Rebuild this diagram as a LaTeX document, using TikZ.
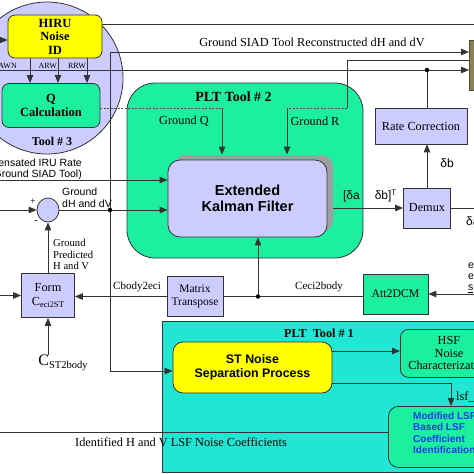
\documentclass[tikz,border=0pt]{standalone}
\usepackage{fontspec}
\setmainfont{Liberation Serif}
\newfontfamily\arial{Liberation Sans}
\usetikzlibrary{arrows.meta,shapes.geometric}
\newcommand\fsz[2]{\fontsize{#1}{#2}\selectfont}
\pgfdeclarelayer{back}
\pgfdeclarelayer{mid}
\pgfsetlayers{back,mid,main}
\definecolor{lav}{RGB}{204,204,255}
\definecolor{mint}{RGB}{28,240,160}
\definecolor{tealA}{RGB}{34,230,212}
\definecolor{yel}{RGB}{255,255,0}
\definecolor{lblue}{RGB}{30,60,230}
\definecolor{oliv}{RGB}{140,128,90}
\begin{document}
\begin{tikzpicture}[x=1pt,y=-1pt,
  ln/.style={draw=black!80, line width=0.85pt},
  ar/.style={ln, -{Triangle[length=8pt,width=6.5pt]}},
  dt/.style={draw=black!70, line width=0.6pt, dash pattern=on 2pt off 1.5pt},
  bx/.style={draw=black!80, line width=0.8pt, align=center, inner sep=0pt},
  lavbox/.style={bx, fill=lav, font=\fsz{12.3}{14}},
  sr/.style={font=\fsz{12.3}{13.5}, align=center, inner sep=0pt},
  sa/.style={font=\arial\fsz{10.5}{11.5}, align=center, inner sep=0pt},
  dotc/.style={circle, fill=black, inner sep=0pt, minimum size=4.5pt}
]
\useasboundingbox (0,0) rectangle (474,474);

% ---------- boxes ----------
\node[bx, fill=yel, rounded corners=7pt, minimum width=94pt, minimum height=43pt, font=\bfseries\fsz{12.5}{13.5}] (hiru) at (55,36.5) {HIRU\\Noise\\ID};
\node[bx, fill=mint, rounded corners=7pt, minimum width=98pt, minimum height=44pt, font=\bfseries\fsz{12.5}{13.5}] (q) at (51,105.5) {Q\\Calculation};
\node[bx, fill=gray!75, draw=none, rounded corners=12pt, minimum width=159pt, minimum height=77pt] (ekfs) at (253.5,193.5) {};
\node[bx, fill=lav, rounded corners=12pt, minimum width=159pt, minimum height=77pt, font=\arial\bfseries\fsz{14.5}{16}] (ekf) at (247.5,198.5) {Extended\\Kalman Filter};
\node[lavbox, minimum width=92pt, minimum height=36pt] (rate) at (421,126) {Rate Correction};
\node[lavbox, minimum width=47pt, minimum height=40pt] (demux) at (427,208) {Demux};
\node[ellipse, draw=black!80, fill=lav, line width=0.8pt, minimum width=22pt, minimum height=24pt, inner sep=0pt] (sum) at (48,210) {};
\node[lavbox, minimum width=53pt, minimum height=44pt] (form) at (48,295.5) {Form\\C{\fsz{8.5}{9}\raisebox{-2.5pt}{eci2ST}}};
\node[lavbox, minimum width=56pt, minimum height=40pt, font=\fsz{11.5}{13}] (mt) at (195,296.5) {Matrix\\Transpose};
\node[bx, fill=mint, minimum width=65pt, minimum height=40pt, font=\fsz{11.8}{13}] (att) at (395.5,294) {Att2DCM};
\node[bx, fill=yel, rounded corners=10pt, minimum width=159pt, minimum height=51pt, font=\arial\bfseries\fsz{12.4}{13.5}] (st) at (252.5,367.5) {ST Noise\\Separation Process};
\node[bx, fill=mint, rounded corners=8pt, minimum width=100pt, minimum height=48pt, anchor=north west] (hsf) at (400,329) {};
\node[sr, font=\fsz{12.3}{12.5}] (hsft) at (449,353) {HSF\\Noise\\Characterization};
\node[bx, fill=mint, rounded corners=10pt, minimum width=110pt, minimum height=61pt, anchor=north west] (mlsf) at (388,406) {};
\node[font=\arial\bfseries\fsz{10}{11.5}, text=lblue, align=left, anchor=north west, inner sep=0pt] (mlsft) at (413,412) {Modified LSF\\Based LSF\\Coefficient\\Identification};
\node[bx, fill=oliv, draw=oliv!60!black, minimum width=14pt, minimum height=50pt, anchor=north west] (blk) at (469,40) {};

% ---------- labels ----------
\node[font=\bfseries\fsz{12}{13}, inner sep=0pt] (t3l) at (52,141) {Tool \# 3};
\node[font=\bfseries\fsz{14}{15}, inner sep=0pt] (p2l) at (233.5,97) {PLT Tool \# 2};
\node[font=\bfseries\fsz{12.2}{13}, inner sep=0pt] (p1l) at (319,333) {PLT\ \ Tool \# 1};
\node[sr] (lgq) at (184,121) {Ground Q};
\node[sr] (lgr) at (315,121) {Ground R};
\node[sr] (lsiad) at (312,42) {Ground SIAD Tool Reconstructed dH and dV};
\node[font=\fsz{8}{9}, inner sep=0pt, anchor=east] (lawn) at (17,66) {AWN};
\node[font=\fsz{8}{9}, inner sep=0pt, anchor=east] (larw) at (57,66) {ARW};
\node[font=\fsz{8}{9}, inner sep=0pt, anchor=east] (lrrw) at (86,66) {RRW};
\node[sa, align=right, anchor=east] (lcomp) at (82,169.5) {Compensated IRU Rate\\(Ground SIAD Tool)};
\node[sa, align=left, anchor=west] (lgdh) at (62,197.5) {Ground\\dH and dV};
\node[font=\fsz{10}{10}, inner sep=0pt] (lplus) at (33,202) {+};
\node[font=\fsz{10}{10}, inner sep=0pt] (lminus) at (36,222) {-};
\node[font=\fsz{10.6}{11.8}, align=left, anchor=west, inner sep=0pt] (lgp) at (53,254.5) {Ground\\Predicted\\H and V};
\node[font=\fsz{11}{12}, inner sep=0pt] (lcb) at (137,287) {Cbody2eci};
\node[font=\fsz{11}{12}, inner sep=0pt] (lce) at (319,287) {Ceci2body};
\node[font=\arial\fsz{12}{13}, inner sep=0pt] (ldab) at (370,196) {[δa\hspace{15pt}δb]\textsuperscript{T}};
\node[font=\arial\fsz{12}{13}, inner sep=0pt] (ldb) at (447,163) {δb};
\node[font=\arial\fsz{12}{13}, inner sep=0pt, anchor=west] (lda) at (466,221) {δa};
\node[font=\arial\fsz{10.5}{11}, inner sep=0pt, anchor=west, align=left] (lq) at (468,278) {e\\e\\\underline{s}};
\node[inner sep=0pt] (cst) at (63,363) {\fsz{16}{16}C\raisebox{-3pt}{\fsz{10.5}{11}ST2body}};
\node[sr] (lid) at (181,442) {Identified H and V LSF Noise Coefficients};
\node[sr, anchor=west] (llsf) at (456,397) {lsf\_noise};

% ---------- backgrounds ----------
\begin{pgfonlayer}{back}
\node[circle, draw=black!80, fill=lav, line width=0.8pt, minimum size=152pt, inner sep=0pt] (t3) at (47,78) {};
\node[bx, fill=mint, rounded corners=28pt, minimum width=236pt, minimum height=175pt] (p2) at (245,170.5) {};
\node[bx, fill=tealA, minimum width=330pt, minimum height=151pt, anchor=north west] (p1) at (162,321) {};
\end{pgfonlayer}

% ---------- connectors ----------
\begin{pgfonlayer}{mid}
\coordinate (L40) at (0,40);
\draw[ar] (L40) -- (L40 -| hiru.west);
\coordinate (R24) at (474,24);
\draw[ln] (R24 -| hiru.east) -- (R24);
\coordinate (h1) at (30,0);
\coordinate (h2) at (58,0);
\coordinate (h3) at (87,0);
\draw[ar] (hiru.south -| h1) -- (q.north -| h1);
\draw[ar] (hiru.south -| h2) -- (q.north -| h2);
\draw[ar] (hiru.south -| h3) -- (q.north -| h3);
% vertical bus at x=110
\coordinate (V) at (110,52);
\coordinate (Vb) at (110,371);
\coordinate (Vj) at (110,210);
\draw[ar] (V) -- (V -| blk.west);
\draw[ln] (V) -- (Vb);
\draw[ar] (Vb) -- (Vb -| st.west);
% line y=70 and rate correction
\coordinate (L70) at (0,70);
\coordinate (X) at (427,0);
\draw[ar] (L70) -- (L70 -| blk.west);
\draw[ln] (rate.north -| X) -- (L70 -| X);
\node[dotc] (d70) at (L70 -| X) {};
\draw[ar] (demux.north) -- (demux.north |- rate.south);
% ground R
\coordinate (rA) at (347,60);
\coordinate (gr) at (287,108);
\draw[ln] (rA -| blk.west) -- (rA) -- (rA |- gr);
\draw[dt] (rA |- gr) -- (gr);
\draw[ar] (gr) -- (gr |- ekfs.north);
% ground Q
\coordinate (gq) at (222,108);
\draw[dt] (q.east |- gq) -- (gq);
\draw[ar] (gq) -- (gq |- ekfs.north);
% inputs to EKF
\coordinate (L180) at (0,180);
\draw[ar] (L180) -- (L180 -| ekf.west);
\coordinate (L210) at (0,210);
\draw[ar] (L210) -- (sum.west);
\draw[ar] (sum.east) -- (sum.east -| ekf.west);
\node[dotc] (dVj) at (Vj) {};
\draw[ar] (form.north) -- (sum.south);
\coordinate (L295) at (0,295.5);
\draw[ar] (L295) -- (form.west);
\draw[ar] (mt.west) -- (mt.west -| form.east);
\coordinate (cb) at (258,296.5);
\draw[ln] (att.west |- cb) -- (mt.east |- cb);
\draw[ar] (cb) -- (cb |- ekf.south);
\node[dotc] (dcb) at (cb) {};
\coordinate (R294) at (474,294);
\draw[ar] (R294) -- (R294 -| att.east);
% EKF -> demux
\draw[ar] (ekf.east |- demux.west) -- (demux.west);
\coordinate (R208) at (474,208);
\draw[ln] (demux.east) -- (R208);
% C_ST2body
\draw[ar] (cst.north -| form.south) -- (form.south);
% identified line
\coordinate (L432) at (0,432);
\draw[ln] (L432) -- (L432 -| mlsf.west);
% ST outputs
\coordinate (s1) at (0,351);
\draw[ar] (st.east |- s1) -- (hsf.west |- s1);
\coordinate (s2) at (451,383);
\draw[ln] (st.east |- s2) -- (s2);
\draw[ar] (s2) -- (s2 |- mlsf.north);
\end{pgfonlayer}
\end{tikzpicture}
\end{document}
